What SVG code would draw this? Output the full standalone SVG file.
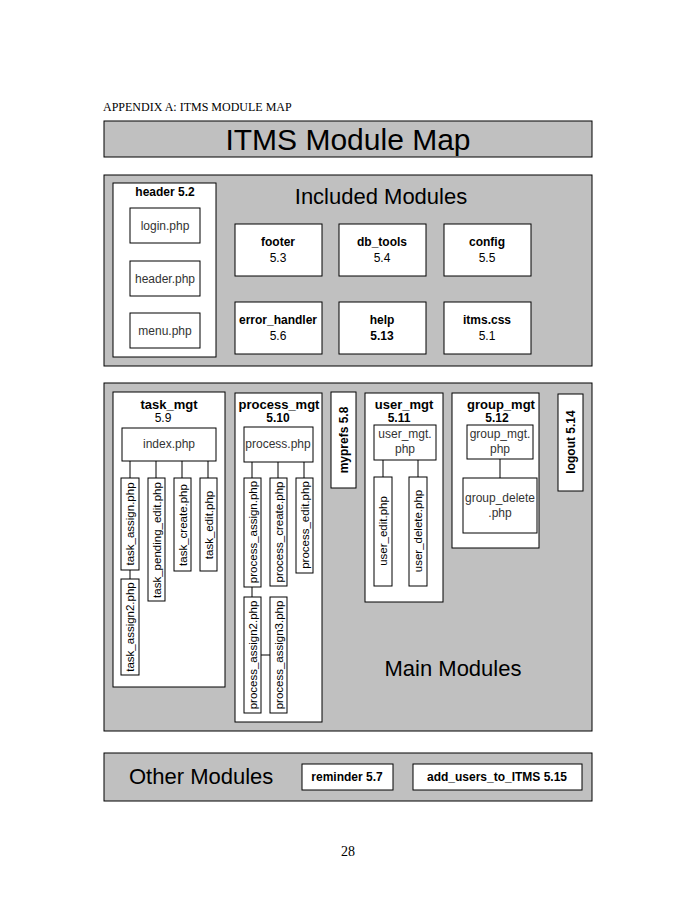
<svg xmlns="http://www.w3.org/2000/svg" width="696" height="900" viewBox="0 0 696 900">
<style>
.g{fill:#c0c0c0;stroke:#000;stroke-width:1}
.w{fill:#fff;stroke:#000;stroke-width:1}
text{font-family:"Liberation Sans",Arial,sans-serif;fill:#000}
.s{font-size:12px;text-anchor:middle}
.r{font-size:11.5px;text-anchor:middle}
.sg{font-size:12px;text-anchor:middle;fill:#333}
.b{font-size:12px;font-weight:bold;text-anchor:middle}
.bt{font-size:13px;font-weight:bold;text-anchor:middle}
.h{font-size:22px}
line{stroke:#000;stroke-width:1}
</style>
<rect width="696" height="900" fill="#fff"/>
<text x="103" y="111" style="font-family:'Liberation Serif',serif;font-size:12px">APPENDIX A: ITMS MODULE MAP</text>
<g id="title"><rect class="g" x="104" y="121" width="488" height="36"/><text x="348" y="150" style="font-size:30px;text-anchor:middle">ITMS Module Map</text></g>

<g id="included"><rect class="g" x="104" y="175" width="488" height="191"/><text class="h" x="381" y="204" text-anchor="middle">Included Modules</text></g>
<g id="header"><rect class="w" x="113" y="183" width="103" height="174"/><text class="b" x="165" y="196">header 5.2</text>
<rect class="w" x="130" y="208" width="70" height="35"/><text class="sg" x="165" y="230">login.php</text>
<rect class="w" x="130" y="261" width="70" height="35"/><text class="sg" x="165" y="283">header.php</text>
<rect class="w" x="130" y="313" width="70" height="35"/><text class="sg" x="165" y="335">menu.php</text></g>
<g id="footer"><rect class="w" x="235" y="224" width="87" height="52"/><text class="b" x="278" y="246">footer</text><text class="s" x="278" y="262">5.3</text></g>
<g id="db_tools"><rect class="w" x="339" y="224" width="87" height="52"/><text class="b" x="382" y="246">db_tools</text><text class="s" x="382" y="262">5.4</text></g>
<g id="config"><rect class="w" x="444" y="224" width="87" height="52"/><text class="b" x="487" y="246">config</text><text class="s" x="487" y="262">5.5</text></g>
<g id="error_handler"><rect class="w" x="235" y="302" width="87" height="52"/><text class="b" x="278" y="324">error_handler</text><text class="s" x="278" y="340">5.6</text></g>
<g id="help"><rect class="w" x="339" y="302" width="87" height="52"/><text class="b" x="382" y="324">help</text><text class="b" x="382" y="340">5.13</text></g>
<g id="itms_css"><rect class="w" x="444" y="302" width="87" height="52"/><text class="b" x="487" y="324">itms.css</text><text class="s" x="487" y="340">5.1</text></g>

<g id="main"><rect class="g" x="104" y="383" width="488" height="348"/><text class="h" x="453" y="676" text-anchor="middle">Main Modules</text></g>

<g id="task_mgt"><rect class="w" x="113" y="392" width="112" height="295"/><text class="bt" x="169" y="409">task_mgt</text><text class="s" x="163" y="422">5.9</text>
<rect class="w" x="122" y="428" width="94" height="33"/><text class="sg" x="169" y="448">index.php</text></g>
<g id="process_mgt"><rect class="w" x="235" y="393" width="87" height="329"/><text class="bt" x="279" y="409">process_mgt</text><text class="b" x="278" y="422">5.10</text>
<rect class="w" x="244" y="427" width="69" height="35"/><text class="sg" x="278" y="448">process.php</text></g>
<g id="user_mgt"><rect class="w" x="365" y="393" width="78" height="209"/><text class="bt" x="404" y="409">user_mgt</text><text class="b" x="399" y="422">5.11</text>
<rect class="w" x="374" y="425" width="62" height="35"/><text class="sg" x="405" y="438">user_mgt.</text><text class="sg" x="405" y="453">php</text></g>
<g id="group_mgt"><rect class="w" x="452" y="393" width="87" height="155"/><text class="bt" x="501" y="409">group_mgt</text><text class="b" x="497" y="422">5.12</text>
<rect class="w" x="467" y="425" width="66" height="34"/><text class="sg" x="500" y="438">group_mgt.</text><text class="sg" x="500" y="453">php</text></g>

<g id="connectors">
<line x1="130" y1="461" x2="130" y2="478"/><line x1="156" y1="461" x2="156" y2="478"/><line x1="182" y1="461" x2="182" y2="478"/><line x1="208" y1="461" x2="208" y2="478"/>
<line x1="130" y1="570" x2="130" y2="579"/>
<line x1="252" y1="462" x2="252" y2="478"/><line x1="278" y1="462" x2="278" y2="478"/><line x1="304" y1="462" x2="304" y2="478"/>
<line x1="252" y1="587" x2="252" y2="597"/><line x1="261" y1="655" x2="270" y2="655"/>
<line x1="383" y1="460" x2="383" y2="477"/><line x1="418" y1="460" x2="418" y2="477"/>
<line x1="500" y1="459" x2="500" y2="478"/>
</g>

<g id="task_assign"><rect class="w" x="121" y="478" width="18" height="92"/><text class="r" transform="translate(134,524) rotate(-90)">task_assign.php</text></g>
<g id="task_pending_edit"><rect class="w" x="148" y="478" width="17" height="123"/><text class="r" transform="translate(161,540) rotate(-90)">task_pending_edit.php</text></g>
<g id="task_create"><rect class="w" x="174" y="478" width="17" height="93"/><text class="r" transform="translate(187,525) rotate(-90)">task_create.php</text></g>
<g id="task_edit"><rect class="w" x="200" y="478" width="17" height="93"/><text class="r" transform="translate(213,525) rotate(-90)">task_edit.php</text></g>
<g id="task_assign2"><rect class="w" x="121" y="579" width="18" height="96"/><text class="r" transform="translate(134,627) rotate(-90)">task_assign2.php</text></g>

<g id="process_assign"><rect class="w" x="244" y="478" width="17" height="109"/><text class="r" transform="translate(257,532) rotate(-90)">process_assign.php</text></g>
<g id="process_create"><rect class="w" x="270" y="478" width="17" height="108"/><text class="r" transform="translate(283,532) rotate(-90)">process_create.php</text></g>
<g id="process_edit"><rect class="w" x="296" y="478" width="17" height="95"/><text class="r" transform="translate(309,525) rotate(-90)">process_edit.php</text></g>
<g id="process_assign2"><rect class="w" x="244" y="597" width="17" height="116"/><text class="r" transform="translate(257,655) rotate(-90)">process_assign2.php</text></g>
<g id="process_assign3"><rect class="w" x="270" y="597" width="17" height="116"/><text class="r" transform="translate(283,655) rotate(-90)">process_assign3.php</text></g>

<g id="myprefs"><rect class="w" x="331" y="392" width="25" height="96"/><text class="b" transform="translate(348,440) rotate(-90)">myprefs 5.8</text></g>

<g id="user_edit"><rect class="w" x="374" y="477" width="18" height="109"/><text class="r" transform="translate(387,531) rotate(-90)">user_edit.php</text></g>
<g id="user_delete"><rect class="w" x="409" y="477" width="18" height="109"/><text class="r" transform="translate(422,531) rotate(-90)">user_delete.php</text></g>

<g id="group_delete"><rect class="w" x="463" y="478" width="74" height="55"/><text class="sg" x="500" y="502">group_delete</text><text class="sg" x="500" y="517">.php</text></g>

<g id="logout"><rect class="w" x="558" y="394" width="25" height="97"/><text class="b" transform="translate(575,442) rotate(-90)">logout 5.14</text></g>

<g id="other"><rect class="g" x="104" y="753" width="488" height="48"/><text class="h" x="129" y="784">Other Modules</text></g>
<g id="reminder"><rect class="w" x="302" y="764" width="91" height="26"/><text class="b" x="347" y="781">reminder 5.7</text></g>
<g id="add_users"><rect class="w" x="413" y="764" width="169" height="26"/><text class="b" x="497" y="781">add_users_to_ITMS 5.15</text></g>

<text x="348" y="856" style="font-family:'Liberation Serif',serif;font-size:14px;text-anchor:middle">28</text>
</svg>
